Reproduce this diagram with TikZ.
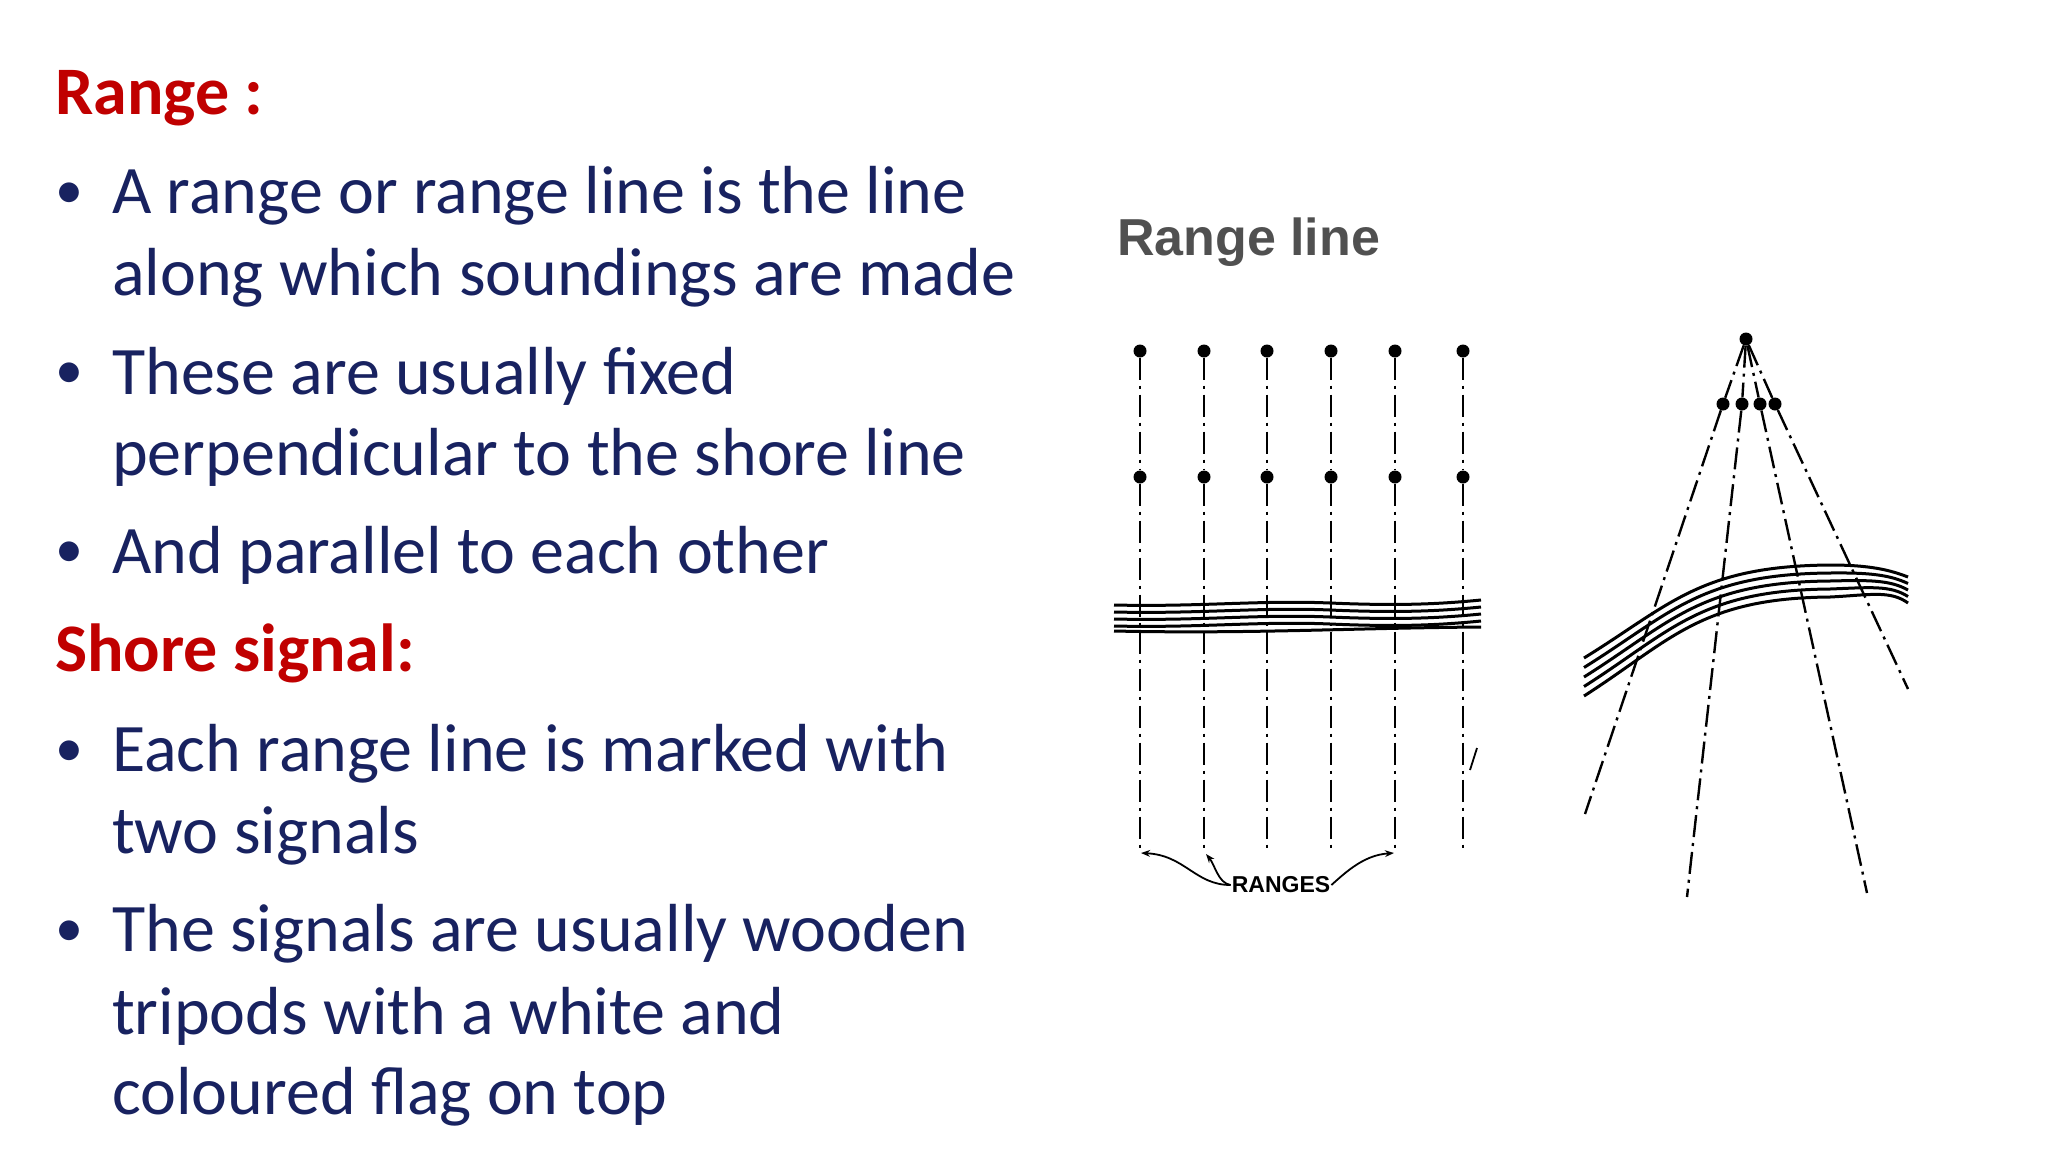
\documentclass[tikz,border=0pt]{standalone}
\usepackage{fontspec}
\setmainfont{Carlito}
\newfontfamily\arialf{Liberation Sans}
\usetikzlibrary{arrows.meta}
\definecolor{tred}{RGB}{192,0,0}
\definecolor{tnavy}{RGB}{24,34,96}
\definecolor{tgray}{RGB}{80,80,80}
\begin{document}
\begin{tikzpicture}[x=1pt,y=-1pt,
  head/.style={anchor=west,inner sep=0,text=tred,font=\fontsize{68}{74}\selectfont\bfseries},
  body/.style={anchor=west,inner sep=0,text=tnavy,font=\fontsize{68}{74}\selectfont},
  bul/.style={anchor=west,inner sep=0,text=tnavy,font=\fontsize{56}{60}\selectfont},
  rng/.style={line width=2.4pt,dash pattern=on 22pt off 6pt on 3pt off 6pt},
  shore/.style={line width=3pt},
  sdot/.style={circle,fill=black,inner sep=0,minimum width=10pt,minimum height=13pt}]
\useasboundingbox (0,0) rectangle (2048,1152);
\fill[white] (0,0) rectangle (2048,1152);
% text
\node[head] (h1) at (55,98) {Range :};
\node[bul] (b1) at (55,196) {\textbullet};
\node[body] (t1) at (112,196) {A range or range line is the line};
\node[body] (t1b) at (112,278) {along which soundings are made};
\node[bul] (b2) at (55,376) {\textbullet};
\node[body] (t2) at (112,376) {These are usually fixed};
\node[body] (t2b) at (112,457) {perpendicular to the shore line};
\node[bul] (b3) at (55,555) {\textbullet};
\node[body] (t3) at (112,555) {And parallel to each other};
\node[head] (h2) at (55,653) {Shore signal:};
\node[bul] (b4) at (55,754) {\textbullet};
\node[body] (t4) at (112,754) {Each range line is marked with};
\node[body] (t4b) at (112,836) {two signals};
\node[bul] (b5) at (55,934) {\textbullet};
\node[body] (t5) at (112,934) {The signals are usually wooden};
\node[body] (t5b) at (112,1016) {tripods with a white and};
\node[body] (t5c) at (112,1097) {coloured flag on top};
% title
\node[anchor=west,inner sep=0,text=tgray,font=\arialf\bfseries\fontsize{52}{56}\selectfont] (title) at (1117,242) {Range line};
% left diagram
\foreach \i/\x in {1/1140,2/1204,3/1267,4/1331,5/1395,6/1463}{
  \node[sdot] (t\i) at (\x,351) {};
  \node[sdot] (m\i) at (\x,477) {};
  \coordinate (e\i) at (\x,853);
  \draw[rng] (t\i) -- (m\i) -- (e\i);
}
\foreach \k in {0,1,2,3}{
  \draw[shore] (1114,{605+\k*7}) .. controls (1200,{607+\k*7}) and (1260,{600+\k*7}) .. (1330,{603+\k*7}) .. controls (1400,{606+\k*7}) and (1440,{604+\k*7}) .. (1481,{600+\k*7});
}
\draw[shore] (1114,631) .. controls (1250,634) and (1350,628) .. (1481,627);
\node[inner sep=1pt,font=\arialf\bfseries\fontsize{23}{24}\selectfont] (rl) at (1281,885) {RANGES};
\coordinate (a1) at (1141,853);
\coordinate (a2) at (1206,854);
\coordinate (a3) at (1394,853);
\draw[line width=1.8pt,-{Stealth[length=9pt]}] (rl.west) .. controls (1195,885) and (1185,855) .. (a1);
\draw[line width=1.8pt,-{Stealth[length=9pt]}] (rl.west) .. controls (1218,883) and (1215,865) .. (a2);
\draw[line width=1.8pt,-{Stealth[length=9pt]}] (rl.east) .. controls (1348,870) and (1365,855) .. (a3);
\draw[line width=1.8pt] (1470,770) -- (1477,748);
% right diagram
\node[sdot] (ap) at (1746,339) {};
\node[sdot] (r1) at (1723,404) {};
\node[sdot] (r2) at (1742,404) {};
\node[sdot] (r3) at (1760,404) {};
\node[sdot] (r4) at (1775,404) {};
\coordinate (f1) at (1585,814);
\coordinate (f2) at (1687,897);
\coordinate (f3) at (1867,893);
\coordinate (f4) at (1908,689);
\foreach \i in {1,2,3,4}{ \draw[rng] (ap) -- (r\i) -- (f\i); }
\foreach \k in {0,1,2,3,4}{
  \draw[shore] (1584,{658+\k*9.5}) .. controls (1670,{605+\k*9}) and (1700,{566+\k*8}) .. (1830,{565+\k*8}) .. controls (1870,{565+\k*7.5}) and (1890,{570+\k*5}) .. (1908,{577+\k*6.5});
}
\end{tikzpicture}
\end{document}
